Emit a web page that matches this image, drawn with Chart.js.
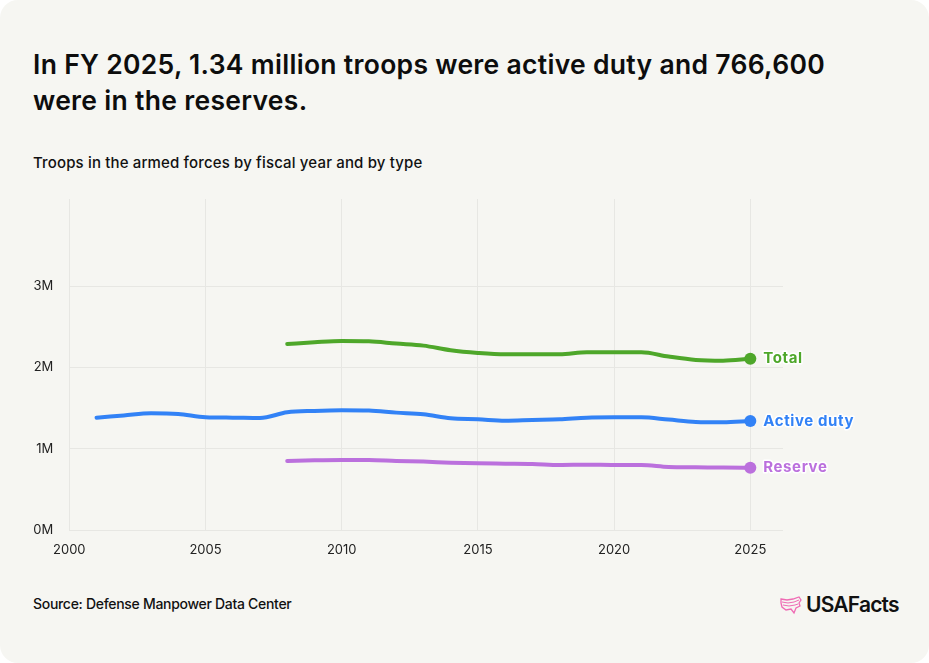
<!DOCTYPE html>
<html>
<head>
<meta charset="utf-8">
<script src="https://cdn.jsdelivr.net/npm/chart.js@4.4.1/dist/chart.umd.min.js"></script>
<style>
  html, body { margin: 0; padding: 0; background: #ffffff; }
  body { width: 929px; height: 663px; position: relative; overflow: hidden; font-family: Inter, "Noto Sans", sans-serif; }
  .card { position: absolute; left: 0; top: 0; width: 929px; height: 663px; background: #f6f6f2; border-radius: 18px; }
  .title { position: absolute; left: 33px; top: 46px; width: 850px; font-size: 26.5px; font-weight: 600; line-height: 36px; letter-spacing: 0.3px; color: #0d0d0d; }
  .subtitle { position: absolute; left: 33px; top: 153px; font-size: 15px; font-weight: 500; letter-spacing: 0.15px; color: #111; }
  .source { position: absolute; left: 33px; top: 595px; font-size: 14px; font-weight: 500; letter-spacing: -0.3px; color: #111; }
  .logo { position: absolute; left: 779px; top: 592px; display: flex; align-items: center; }
  .logo span { font-size: 21px; font-weight: 600; letter-spacing: -0.8px; color: #111; margin-left: 3px; }
  #chart-wrap { position: absolute; left: 0; top: 180px; width: 929px; height: 400px; }
</style>
</head>
<body>
<div class="card"></div>
<div class="title">In FY 2025, 1.34 million troops were active duty and 766,600 were in the reserves.</div>
<div class="subtitle">Troops in the armed forces by fiscal year and by type</div>
<div id="chart-wrap"><canvas id="chart" width="929" height="400"></canvas></div>
<div class="source">Source: Defense Manpower Data Center</div>
<div class="logo">
  <svg width="24" height="20" viewBox="0 0 24 20">
    <path d="M2 4 L8 5 L14 4 L20 2 L22 5 L20 8 L21 11 L17 13 L15 18 L12 14 L7 15 L3 12 L2 8 Z" fill="none" stroke="#ef6bb4" stroke-width="1.3"/>
    <path d="M3 7 L9 8 L15 7 L20 5 M4 10 L10 11 L16 10 L19 9" fill="none" stroke="#ef6bb4" stroke-width="1"/>
  </svg>
  <span>USAFacts</span>
</div>

<script>
// Jahre und Werte (Millionen Soldaten)
const yearsActive = [2001, 2002, 2003, 2004, 2005, 2006, 2007, 2008, 2009, 2010, 2011, 2012, 2013,
  2014, 2015, 2016, 2017, 2018, 2019, 2020, 2021, 2022, 2023, 2024, 2025];
const activeDuty = [1.383, 1.41, 1.437, 1.428, 1.388, 1.383, 1.379, 1.449, 1.466, 1.474, 1.47, 1.445, 1.425,
  1.375, 1.363, 1.346, 1.355, 1.363, 1.383, 1.387, 1.387, 1.359, 1.33, 1.326, 1.342];

const yearsReserve = [2008, 2009, 2010, 2011, 2012, 2013, 2014, 2015, 2016, 2017, 2018, 2019, 2020,
  2021, 2022, 2023, 2024, 2025];
const reserve = [0.85, 0.858, 0.862, 0.862, 0.85, 0.842, 0.829, 0.821, 0.817, 0.813, 0.8, 0.804, 0.8,
  0.8, 0.776, 0.772, 0.768, 0.7666];
const total = [2.29, 2.311, 2.327, 2.323, 2.295, 2.27, 2.213, 2.18, 2.163, 2.165, 2.163, 2.188, 2.188,
  2.188, 2.135, 2.094, 2.085, 2.109];

const xTicks = [2000, 2005, 2010, 2015, 2020, 2025];
const yTicks = [0, 1, 2, 3];

const seriesNames = ['Total', 'Active duty', 'Reserve'];
const seriesColors = ['#4ea72a', '#3282f6', '#bb70dd'];

function toPoints(xs, ys) {
  return xs.map((x, i) => ({ x: x, y: ys[i] * 1e6 }));
}

function makeDataset(idx, xs, ys) {
  const n = xs.length;
  return {
    label: seriesNames[idx],
    data: toPoints(xs, ys),
    borderColor: seriesColors[idx],
    backgroundColor: seriesColors[idx],
    borderWidth: 4,
    borderCapStyle: 'round',
    borderJoinStyle: 'round',
    cubicInterpolationMode: 'monotone',
    pointRadius: xs.map((_, i) => i === n - 1 ? 6 : 0),
    pointHoverRadius: 0,
    pointBorderWidth: 0
  };
}

// Beschriftungen rechts neben den Endpunkten
const endLabels = {
  id: 'endLabels',
  afterDatasetsDraw(chart) {
    const ctx = chart.ctx;
    ctx.save();
    ctx.font = '700 15px Inter, "Noto Sans", sans-serif';
    if ('letterSpacing' in ctx) ctx.letterSpacing = '0.6px';
    ctx.textBaseline = 'middle';
    ctx.textAlign = 'left';
    ctx.lineJoin = 'round';
    chart.data.datasets.forEach((ds, i) => {
      const meta = chart.getDatasetMeta(i);
      const last = meta.data[meta.data.length - 1];
      const x = last.x + 13;
      const y = last.y;
      ctx.strokeStyle = '#ffffff';
      ctx.lineWidth = 3;
      ctx.strokeText(ds.label, x, y);
      ctx.fillStyle = ds.borderColor;
      ctx.fillText(ds.label, x, y);
    });
    ctx.restore();
  }
};

const ctx = document.getElementById('chart').getContext('2d');
new Chart(ctx, {
  type: 'line',
  data: {
    datasets: [
      makeDataset(0, yearsReserve, total),
      makeDataset(1, yearsActive, activeDuty),
      makeDataset(2, yearsReserve, reserve)
    ]
  },
  options: {
    responsive: false,
    animation: false,
    events: [],
    layout: { padding: { top: 19, right: 146, bottom: 10, left: 0 } },
    plugins: {
      legend: { display: false },
      tooltip: { enabled: false }
    },
    scales: {
      x: {
        type: 'linear',
        min: 2000,
        max: 2026.2,
        afterBuildTicks: (scale) => { scale.ticks = xTicks.map(v => ({ value: v })); },
        afterFit: (scale) => { scale.height = 40; },
        grid: { color: '#e7e7e3', lineWidth: 1, drawTicks: false },
        border: { display: false },
        ticks: {
          padding: 12,
          color: '#222',
          font: { family: 'Inter', size: 13 },
          callback: (v) => String(v)
        }
      },
      y: {
        type: 'linear',
        min: 0,
        max: 4.075e6,
        afterBuildTicks: (scale) => { scale.ticks = yTicks.map(v => ({ value: v * 1e6 })); },
        afterFit: (scale) => {
          scale.width = 69.3;
          scale.paddingTop = 0;
          scale.paddingBottom = 0;
        },
        grid: { color: '#e7e7e3', lineWidth: 1, drawTicks: false },
        border: { display: false },
        ticks: {
          padding: 16,
          color: '#222',
          font: { family: 'Inter', size: 13 },
          callback: (v) => (v / 1e6) + 'M'
        }
      }
    }
  },
  plugins: [endLabels]
});
</script>
</body>
</html>
